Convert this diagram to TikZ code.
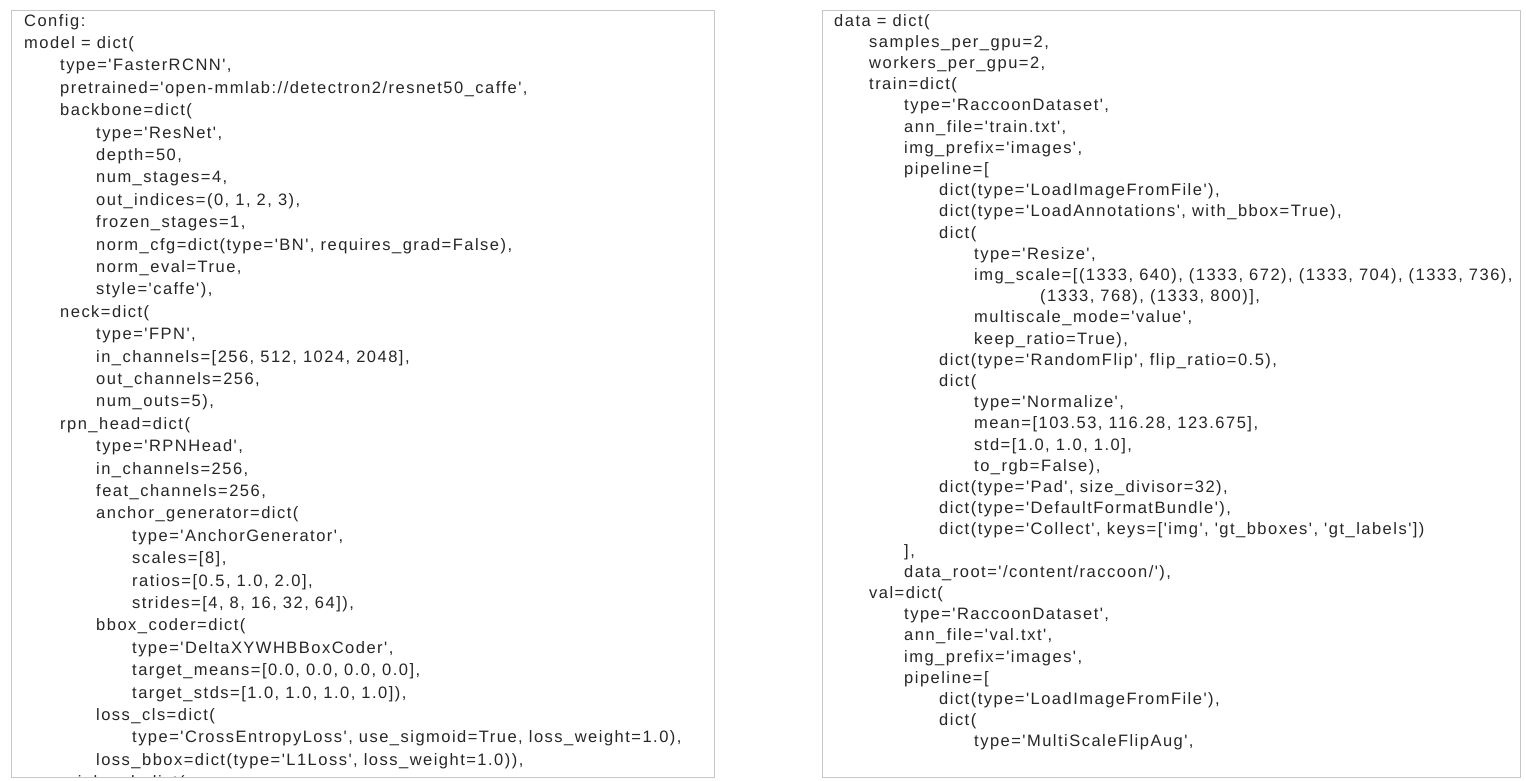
\documentclass[tikz,border=0pt]{standalone}
\usepackage{fontspec}
\newfontfamily\codefont{Liberation Sans}[LetterSpace=9]
\begin{document}
\begin{tikzpicture}[x=1pt,y=-1pt,
  panel/.style={draw=black!22,line width=1pt,fill=white},
  cl/.style={anchor=base west,inner sep=0pt,font=\codefont\fontsize{16.5}{18}\selectfont,text=black!85}]
\useasboundingbox (0,0) rectangle (1526,780);
\fill[white] (0,0) rectangle (1526,780);
\node[panel,minimum width=703,minimum height=767,anchor=north west] (lp) at (11,10) {};
\node[panel,minimum width=698,minimum height=767,anchor=north west] (rp) at (822,10) {};
\begin{scope}
\clip (12,11) rectangle (713,776);
\foreach \l/\t [count=\i] in {0/{Config:},0/{model = dict(},1/{type='FasterRCNN',},1/{pretrained='open-mmlab://detectron2/resnet50\_caffe',},1/{backbone=dict(},2/{type='ResNet',},2/{depth=50,},2/{num\_stages=4,},2/{out\_indices=(0, 1, 2, 3),},2/{frozen\_stages=1,},2/{norm\_cfg=dict(type='BN', requires\_grad=False),},2/{norm\_eval=True,},2/{style='caffe'),},1/{neck=dict(},2/{type='FPN',},2/{in\_channels=[256, 512, 1024, 2048],},2/{out\_channels=256,},2/{num\_outs=5),},1/{rpn\_head=dict(},2/{type='RPNHead',},2/{in\_channels=256,},2/{feat\_channels=256,},2/{anchor\_generator=dict(},3/{type='AnchorGenerator',},3/{scales=[8],},3/{ratios=[0.5, 1.0, 2.0],},3/{strides=[4, 8, 16, 32, 64]),},2/{bbox\_coder=dict(},3/{type='DeltaXYWHBBoxCoder',},3/{target\_means=[0.0, 0.0, 0.0, 0.0],},3/{target\_stds=[1.0, 1.0, 1.0, 1.0]),},2/{loss\_cls=dict(},3/{type='CrossEntropyLoss', use\_sigmoid=True, loss\_weight=1.0),},2/{loss\_bbox=dict(type='L1Loss', loss\_weight=1.0)),},1/{roi\_head=dict(}}
  \node[cl] (l\i) at ({24+36*\l},{26+(\i-1)*22.4}) {\t};
\end{scope}
\foreach \l/\t [count=\i] in {0/{data = dict(},1/{samples\_per\_gpu=2,},1/{workers\_per\_gpu=2,},1/{train=dict(},2/{type='RaccoonDataset',},2/{ann\_file='train.txt',},2/{img\_prefix='images',},2/{pipeline=[},3/{dict(type='LoadImageFromFile'),},3/{dict(type='LoadAnnotations', with\_bbox=True),},3/{dict(},4/{type='Resize',},4/{img\_scale=[(1333, 640), (1333, 672), (1333, 704), (1333, 736),},4/{\hspace{66pt}(1333, 768), (1333, 800)],},4/{multiscale\_mode='value',},4/{keep\_ratio=True),},3/{dict(type='RandomFlip', flip\_ratio=0.5),},3/{dict(},4/{type='Normalize',},4/{mean=[103.53, 116.28, 123.675],},4/{std=[1.0, 1.0, 1.0],},4/{to\_rgb=False),},3/{dict(type='Pad', size\_divisor=32),},3/{dict(type='DefaultFormatBundle'),},3/{dict(type='Collect', keys=['img', 'gt\_bboxes', 'gt\_labels'])},2/{],},2/{data\_root='/content/raccoon/'),},1/{val=dict(},2/{type='RaccoonDataset',},2/{ann\_file='val.txt',},2/{img\_prefix='images',},2/{pipeline=[},3/{dict(type='LoadImageFromFile'),},3/{dict(},4/{type='MultiScaleFlipAug',}}
  \node[cl] (r\i) at ({834+35*\l},{26+(\i-1)*21.2}) {\t};
\end{tikzpicture}
\end{document}
